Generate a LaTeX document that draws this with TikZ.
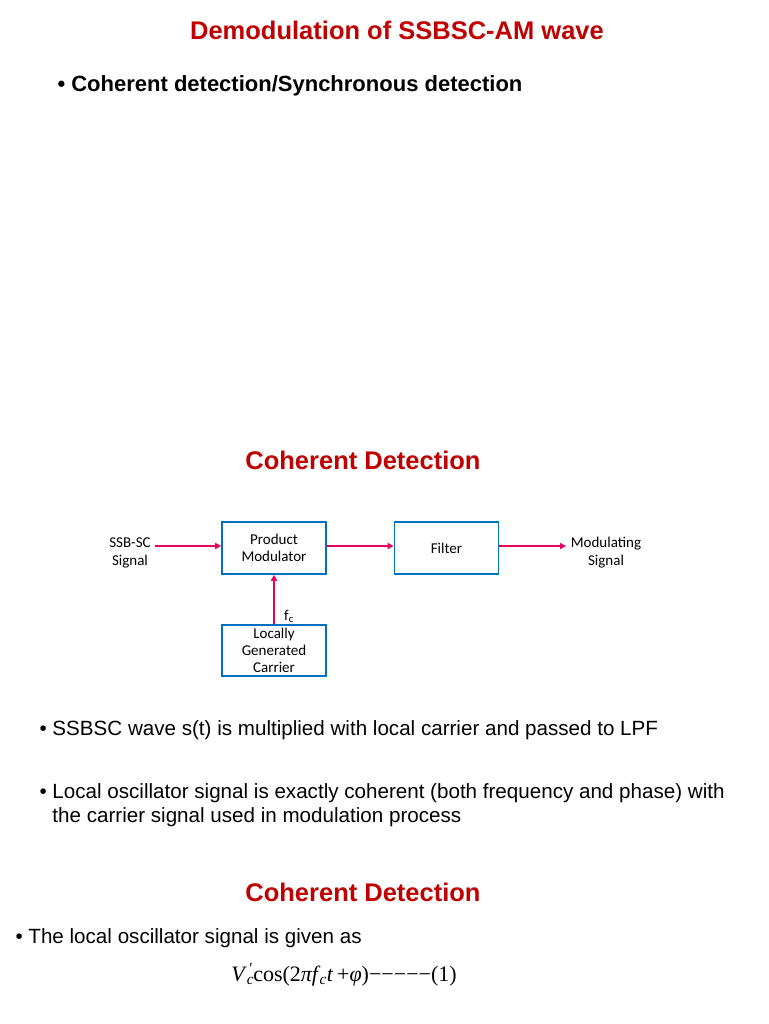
\documentclass[tikz,border=0pt]{standalone}
\usepackage{fontspec}
\setmainfont{Liberation Sans}
\newfontfamily\cali{Carlito}
\newfontfamily\tms{Liberation Serif}
\usetikzlibrary{arrows.meta}
\definecolor{tred}{RGB}{192,0,0}
\definecolor{bbox}{RGB}{0,112,192}
\definecolor{pink}{RGB}{232,0,100}
\begin{document}
\begin{tikzpicture}[x=1pt,y=-1pt,
  blk/.style={draw=bbox,line width=1.6pt,minimum width=104pt,minimum height=52pt,align=center,font=\cali\fontsize{15}{17}\selectfont,inner sep=0pt},
  lbl/.style={align=center,font=\cali\fontsize{15}{18}\selectfont},
  sig/.style={draw=pink,line width=1.6pt,-{Triangle[length=6pt,width=6pt]}},
  ttl/.style={text=tred,font=\bfseries\fontsize{25.5}{30}\selectfont},
  body/.style={anchor=west,font=\fontsize{20.6}{24}\selectfont,align=left}]
\useasboundingbox (0,0) rectangle (768,1024);
\node[ttl] (t1) at (397,30) {Demodulation of SSBSC-AM wave};
\node[body,font=\bfseries\fontsize{22}{25}\selectfont] (b1) at (54,86) {• Coherent detection/Synchronous detection};
\node[ttl] (t2) at (363,460) {Coherent Detection};
\node[blk] (pm) at (274,548) {Product\\Modulator};
\node[blk] (fl) at (446.5,548) {Filter};
\node[blk,minimum height=51pt] (lo) at (274,650.5) {Locally\\Generated\\Carrier};
\node[lbl] (in) at (130,553) {SSB-SC\\Signal};
\node[lbl] (out) at (606,553) {Modulating\\Signal};
\coordinate (ia) at (155,546);
\coordinate (oa) at (566,546);
\draw[sig] (ia) -- (ia -| pm.west);
\draw[sig] (pm.east |- ia) -- (fl.west |- ia);
\draw[sig] (fl.east |- ia) -- (oa);
\draw[sig] (lo.north) -- (pm.south);
\node[lbl] (fc) at (289,616) {f\textsubscript{c}};
\node[body] (b2) at (36,730) {• SSBSC wave s(t) is multiplied with local carrier and passed to LPF};
\node[body] (b3) at (36,805) {• Local oscillator signal is exactly coherent (both frequency and phase) with\\\phantom{• }the carrier signal used in modulation process};
\node[ttl] (t3) at (363,892) {Coherent Detection};
\node[body] (b4) at (12,938) {• The local oscillator signal is given as};
\node[font=\tms\fontsize{22}{26}\selectfont] (eq) at (344,975) {\textit{V}\rlap{\textsubscript{\textit{c}}}\textsuperscript{\,′}cos(2\textit{πf}\kern-1pt\textsubscript{\textit{c}}\textit{t}\,+\textit{φ})−−−−−(1)};
\end{tikzpicture}
\end{document}
